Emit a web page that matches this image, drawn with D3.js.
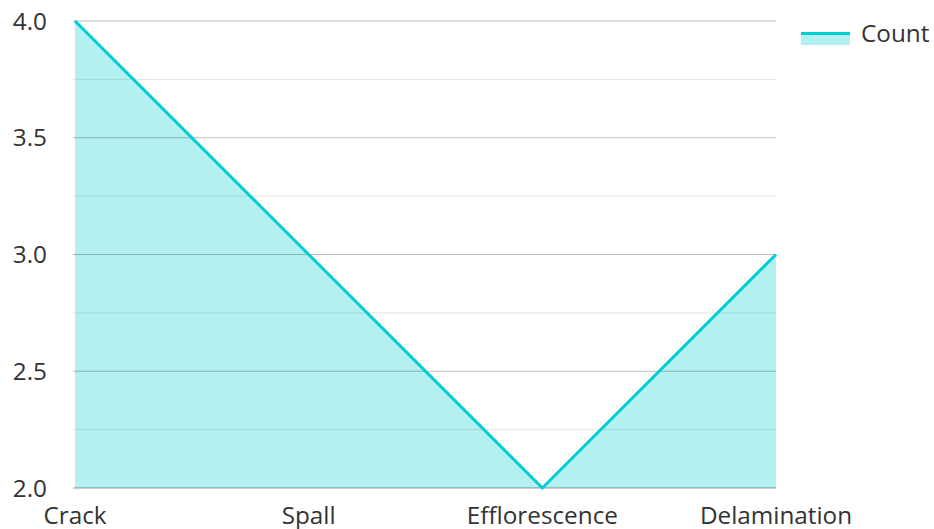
<!DOCTYPE html>
<html>
<head>
<meta charset="utf-8">
<script src="https://cdn.jsdelivr.net/npm/d3@7"></script>
<style>
  html, body { margin: 0; padding: 0; background: #fff; }
  svg { display: block; font-family: "Open Sans", "Noto Sans", sans-serif; }
</style>
</head>
<body>
<svg id="chart" width="934" height="529"></svg>
<script>
// Defect counts by type
const categories = ["Crack", "Spall", "Efflorescence", "Delamination"];
const counts = [4, 3, 2, 3];
const yTicks = [2.0, 2.5, 3.0, 3.5, 4.0];
const yMinorTicks = [2.25, 2.75, 3.25, 3.75];
const seriesName = "Count";

const W = 934, H = 529;
const margin = { left: 75, right: 158, top: 21, bottom: 41 };
const lineColor = "#00CED1";
const fontSize = 24.3;

const svg = d3.select("#chart");

const x = d3.scalePoint()
  .domain(categories)
  .range([margin.left, W - margin.right]);

const y = d3.scaleLinear()
  .domain([2, 4])
  .range([H - margin.bottom, margin.top]);

const data = categories.map((c, i) => ({ c, v: counts[i] }));

// Filled area under the line
const area = d3.area()
  .x(d => x(d.c))
  .y0(y(2))
  .y1(d => y(d.v));

svg.append("path")
  .datum(data)
  .attr("d", area)
  .attr("fill", lineColor)
  .attr("fill-opacity", 0.3);

// Grid lines drawn over the fill
const gridX0 = margin.left - 2, gridX1 = W - margin.right;
svg.append("g").selectAll("line.minor")
  .data(yMinorTicks).join("line")
  .attr("x1", gridX0).attr("x2", gridX1)
  .attr("y1", d => y(d)).attr("y2", d => y(d))
  .attr("stroke", "#000").attr("stroke-opacity", 0.1).attr("stroke-width", 1);

svg.append("g").selectAll("line.major")
  .data(yTicks).join("line")
  .attr("x1", gridX0).attr("x2", gridX1)
  .attr("y1", d => y(d)).attr("y2", d => y(d))
  .attr("stroke", "#000")
  .attr("stroke-opacity", d => d === 2 ? 0.2 : 0.25)
  .attr("stroke-width", d => d === 2 ? 2 : 1.2);

// Data line
const line = d3.line()
  .x(d => x(d.c))
  .y(d => y(d.v));

svg.append("path")
  .datum(data)
  .attr("d", line)
  .attr("fill", "none")
  .attr("stroke", lineColor)
  .attr("stroke-width", 3)
  .attr("stroke-linejoin", "miter");

// Y axis labels
svg.append("g").selectAll("text")
  .data(yTicks).join("text")
  .attr("x", 47)
  .attr("y", d => y(d))
  .attr("dy", "0.35em")
  .attr("text-anchor", "end")
  .attr("font-size", fontSize)
  .attr("fill", "#333")
  .text(d => d3.format(".1f")(d));

// X axis labels
svg.append("g").selectAll("text")
  .data(categories).join("text")
  .attr("x", d => x(d))
  .attr("y", 524)
  .attr("text-anchor", "middle")
  .attr("font-size", fontSize)
  .attr("fill", "#333")
  .text(d => d);

// Legend
const lg = svg.append("g").attr("transform", "translate(801,32)");
lg.append("rect")
  .attr("x", 0).attr("y", 0).attr("width", 49).attr("height", 13)
  .attr("fill", lineColor).attr("fill-opacity", 0.3);
lg.append("line")
  .attr("x1", 0).attr("x2", 49).attr("y1", 1.5).attr("y2", 1.5)
  .attr("stroke", lineColor).attr("stroke-width", 3);
lg.append("text")
  .attr("x", 60).attr("y", 10)
  .attr("font-size", fontSize)
  .attr("fill", "#333")
  .text(seriesName);
</script>
</body>
</html>
